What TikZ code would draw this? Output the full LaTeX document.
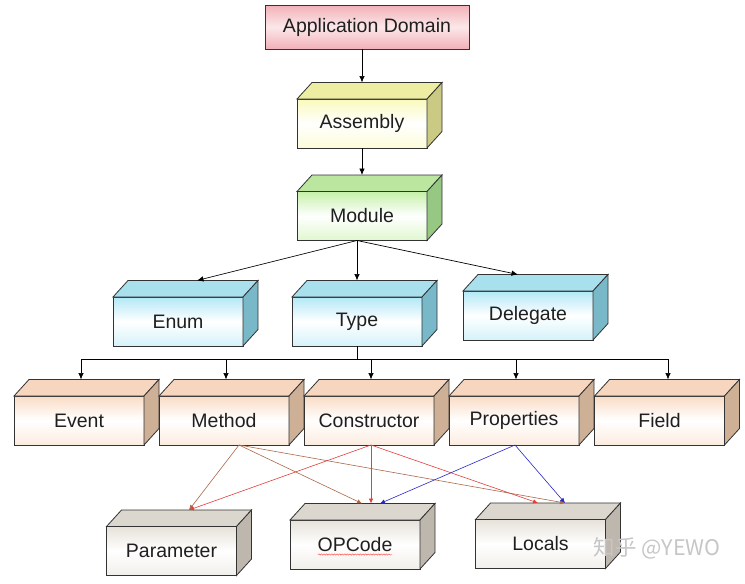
\documentclass[tikz,border=0pt]{standalone}
\usepackage{fontspec}
\setmainfont{Liberation Sans}
\newfontfamily\cjkfont{Noto Sans CJK SC}
\usepackage{tikz}
\usetikzlibrary{arrows.meta}
\usetikzlibrary{calc}
\usetikzlibrary{decorations.pathmorphing}

\definecolor{pinkfront}{RGB}{242,176,184}
\definecolor{yelfront}{RGB}{250,250,188}
\definecolor{yeltop}{RGB}{238,238,162}
\definecolor{yelside}{RGB}{202,202,132}
\definecolor{grnfront}{RGB}{198,240,168}
\definecolor{grntop}{RGB}{186,230,160}
\definecolor{grnside}{RGB}{150,200,132}
\definecolor{bluefront}{RGB}{178,232,246}
\definecolor{bluetop}{RGB}{168,224,238}
\definecolor{blueside}{RGB}{120,184,200}
\definecolor{peachfront}{RGB}{250,220,198}
\definecolor{peachtop}{RGB}{246,214,190}
\definecolor{peachside}{RGB}{206,176,150}
\definecolor{grayfront}{RGB}{230,226,218}
\definecolor{graytop}{RGB}{220,215,206}
\definecolor{grayside}{RGB}{190,183,174}
\definecolor{brownline}{RGB}{172,104,72}
\definecolor{redline}{RGB}{228,62,62}
\definecolor{blueline}{RGB}{40,40,196}

\tikzset{
  boxline/.style={draw=black!80,line width=0.8pt},
  boxtext/.style={font=\fontsize{19.5}{22}\selectfont,text=black!88},
  arr/.style={-{Latex[length=6.5pt,width=5.5pt]},line width=0.7pt},
  smallarr/.style={-{Latex[length=5pt,width=4.5pt]},line width=0.6pt},
}

% name, position, text, front, top, side
\newcommand{\cube}[6]{%
\node (#1) [boxline,outer sep=0pt,minimum width=130pt,minimum height=49pt,top color=#4,bottom color=#4!55!white,middle color=white,boxtext] at (#2) {#3};
\filldraw[boxline,fill=#5] (#1.north west) -- ++(15,-16.5) -- ($(#1.north east)+(15,-16.5)$) -- (#1.north east) -- cycle;
\filldraw[boxline,fill=#6] (#1.north east) -- ++(15,-16.5) -- ($(#1.south east)+(15,-16.5)$) -- (#1.south east) -- cycle;
\coordinate (#1-t) at ($(#1.north)+(0,-16.5)$);
}

\begin{document}
\begin{tikzpicture}[x=1pt,y=-1pt]
\useasboundingbox (0,0) rectangle (745,584);
\node (app) [boxline,outer sep=0pt,minimum width=204pt,minimum height=44pt,top color=pinkfront,bottom color=pinkfront,middle color=white!70!pinkfront,boxtext] at (367,27) {Application Domain};
\cube{asm}{362,123.5}{Assembly}{yelfront}{yeltop}{yelside}
\cube{module}{362,216}{Module}{grnfront}{grntop}{grnside}
\cube{enum}{178,321.5}{Enum}{bluefront}{bluetop}{blueside}
\cube{type}{357,321.5}{Type}{bluefront}{bluetop}{blueside}
\cube{delegate}{528,315.5}{Delegate}{bluefront}{bluetop}{blueside}
\cube{event}{79,420.5}{Event}{peachfront}{peachtop}{peachside}
\cube{method}{224,420.5}{Method}{peachfront}{peachtop}{peachside}
\cube{ctor}{369,420.5}{Constructor}{peachfront}{peachtop}{peachside}
\cube{props}{514,420.5}{Properties}{peachfront}{peachtop}{peachside}
\cube{field}{659.5,420.5}{Field}{peachfront}{peachtop}{peachside}
\cube{param}{171.5,551}{Parameter}{grayfront}{graytop}{grayside}
\cube{opcode}{355,544.5}{OPCode}{grayfront}{graytop}{grayside}
\cube{locals}{540.5,544}{Locals}{grayfront}{graytop}{grayside}
\draw[decorate,decoration={snake,amplitude=0.7pt,segment length=2.6pt},draw=red!75,line width=0.4pt] ($(opcode.center)+(-37,10)$) -- ($(opcode.center)+(37,10)$);

\draw[arr] (app.south -| asm-t) -- (asm-t);
\draw[arr] (asm.south) -- (module-t);
\draw[arr] (module.south -| type.north) -- ($(enum-t)+(19,0)$);
\draw[arr] (module.south -| type.north) -- (type-t);
\draw[arr] (module.south -| type.north) -- ($(delegate-t)+(-10,0)$);

\coordinate (bus) at ($(type.south)+(0,13)$);
\draw[line width=0.7pt] (type.south) -- (bus);
\draw[line width=0.7pt] ($(bus -| event-t)+(2,0)$) -- ($(bus -| field-t)+(8.5,0)$);
\foreach \n in {event,method,ctor,props}
  \draw[arr] ($(bus -| \n-t)+(2,0)$) -- ($(\n-t)+(2,0)$);
\draw[arr] ($(bus -| field-t)+(8.5,0)$) -- ($(field-t)+(8.5,0)$);

\coordinate (method-out) at ($(method.south)+(15,0)$);
\coordinate (ctor-out) at ($(ctor.south)+(2,0)$);
\coordinate (props-out) at ($(props.south)+(1,0)$);
\draw[smallarr,brownline] (method-out) -- ($(param-t)+(17.5,0)$);
\draw[smallarr,brownline] (method-out) -- ($(opcode-t)+(7,0)$);
\draw[smallarr,brownline] (method-out) -- ($(locals-t)+(24.5,0)$);
\draw[smallarr,redline] (ctor-out) -- ($(param-t)+(17.5,0)$);
\draw[smallarr,redline] (ctor-out) -- ($(opcode-t)+(16,0)$);
\draw[smallarr,redline] (ctor-out) -- ($(locals-t)+(-2.5,0)$);
\draw[smallarr,blueline] (props-out) -- ($(opcode-t)+(25,0)$);
\draw[smallarr,blueline] (props-out) -- ($(locals-t)+(24.5,0)$);

\node (watermark) [text=gray!45,font=\cjkfont\fontsize{21.5}{24}\selectfont] at (657,548) {知乎 @YEWO};
\end{tikzpicture}
\end{document}
